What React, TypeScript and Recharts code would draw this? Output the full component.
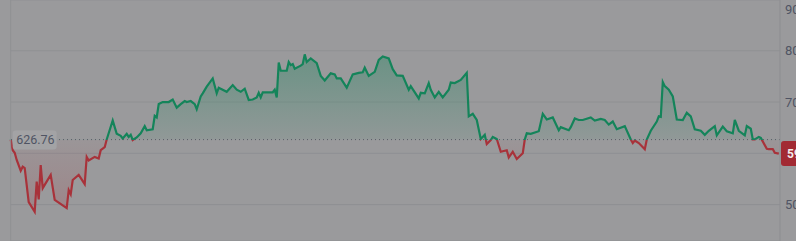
import React from 'react';
import { ComposedChart, Area, XAxis, YAxis, CartesianGrid, ReferenceLine } from 'recharts';

// session index (half-step bars) and close prices
const days = [
    0, 1, 2, 3, 5, 6, 7, 9, 12, 13, 14, 15, 16, 20, 22, 28, 29, 30, 31, 34,
    37, 38, 39, 42, 44, 45, 47, 48, 51, 52, 53, 55, 56, 58, 59, 60, 61, 63, 65, 67,
    68, 71, 72, 73, 74, 76, 79, 81, 83, 85, 87, 88, 90, 92, 93, 95, 96, 98, 101, 103,
    104, 108, 111, 113, 115, 117, 119, 121, 123, 124, 125, 126, 131, 132, 133, 134, 135, 138, 139, 140,
    141, 142, 145, 146, 147, 148, 150, 153, 155, 157, 160, 162, 163, 165, 168, 171, 174, 176, 177, 179,
    182, 184, 186, 189, 191, 193, 196, 199, 200, 204, 205, 207, 209, 210, 212, 214, 216, 219, 220, 222,
    225, 228, 229, 231, 233, 235, 237, 238, 240, 241, 243, 245, 248, 249, 251, 253, 256, 257, 258, 260,
    264, 266, 268, 271, 274, 275, 279, 280, 282, 284, 286, 290, 292, 295, 297, 299, 301, 303, 307, 310,
    311, 312, 314, 317, 318, 320, 323, 324, 325, 326, 327, 329, 331, 333, 336, 338, 340, 342, 345, 347,
    349, 352, 353, 356, 358, 361, 362, 364, 367, 368, 370, 371, 372, 374, 375, 378, 379, 381, 382, 384,
];

const prices = [
    627, 606, 601, 587, 566, 574, 571, 505, 486, 545, 510, 577, 532, 558, 509, 493, 528, 520, 548, 558,
    540, 593, 586, 593, 590, 606, 612, 627, 664, 651, 638, 634, 629, 638, 632, 636, 626, 631, 639, 653,
    645, 647, 673, 670, 696, 700, 700, 705, 689, 696, 702, 700, 702, 696, 686, 711, 717, 730, 746, 717,
    728, 720, 733, 724, 720, 726, 704, 705, 709, 718, 709, 719, 719, 724, 709, 777, 761, 761, 778, 772,
    774, 765, 771, 774, 793, 778, 785, 776, 751, 742, 756, 754, 746, 746, 728, 754, 757, 758, 767, 751,
    759, 782, 789, 785, 764, 752, 751, 724, 731, 707, 718, 717, 737, 724, 709, 720, 709, 724, 738, 737,
    743, 757, 672, 677, 665, 628, 636, 618, 626, 632, 628, 603, 606, 592, 603, 589, 600, 627, 639, 638,
    643, 677, 666, 670, 645, 651, 645, 651, 668, 665, 665, 670, 664, 667, 665, 656, 662, 647, 653, 627,
    620, 625, 620, 608, 627, 644, 662, 672, 671, 739, 731, 724, 711, 666, 665, 679, 672, 647, 644, 636,
    644, 653, 635, 652, 643, 639, 665, 644, 635, 653, 648, 627, 627, 632, 630, 609, 608, 608, 601, 599.4,
];

const baseline = 626.76;
const yTicks = [500, 600, 700, 800, 900];
const yMin = 429;
const yMax = 899;

const data = days.map((d, i) => ({ day: d, price: prices[i] }));
const lastPrice = prices[prices.length - 1];

const W = 796;
const H = 241;
const GREEN = '#14845a';
const RED = '#a8323a';
const TEXT = '#4f5463';
const GRID = '#8f9093';

const off = (yMax - baseline) / (yMax - yMin);

const AxisTick = (props: any) => {
    const { y, payload } = props;
    // the last-price badge sits on top of this tick
    if (Math.abs(payload.value - lastPrice) < 15) return null;
    return (
        <text x={785} y={y} dy={4.5} fill={TEXT} fontSize={13} fontFamily="Roboto, sans-serif">
            {payload.value}
        </text>
    );
};

const BaseLabel = (props: any) => {
    const vb = props.viewBox;
    return (
        <g>
            <rect x={vb.x + 2} y={vb.y - 9} width={44} height={19} rx={3} fill="#a3a3a5" />
            <text x={vb.x + 5.5} y={vb.y + 4.5} fill={TEXT} fontSize={12.5} fontFamily="Roboto, sans-serif">
                {baseline.toFixed(2)}
            </text>
        </g>
    );
};

const PriceBadge = (props: any) => {
    const vb = props.viewBox;
    const x = vb.x + vb.width + 1;
    return (
        <g>
            <rect x={x} y={vb.y - 12.5} width={30} height={25} rx={3} fill="#a22a33" />
            <text x={x + 6} y={vb.y + 4.5} fill="#f2e9ea" fontSize={12} fontWeight={700} fontFamily="Roboto, sans-serif">
                {lastPrice.toFixed(2)}
            </text>
        </g>
    );
};

const App = () => (
    <div style={{ position: 'absolute', left: 0, top: 0, width: W, height: H, background: '#9a9a9c', overflow: 'hidden' }}>
        <ComposedChart width={W} height={H} data={data} margin={{ top: 0, right: 0, bottom: 0, left: 10.7 }}>
            <defs>
                <linearGradient id="lineGrad" gradientUnits="userSpaceOnUse" x1="0" y1="0" x2="0" y2={H}>
                    <stop offset={off} stopColor={GREEN} />
                    <stop offset={off} stopColor={RED} />
                </linearGradient>
                <linearGradient id="fillGrad" gradientUnits="userSpaceOnUse" x1="0" y1="0" x2="0" y2={H}>
                    <stop offset={0} stopColor={GREEN} stopOpacity={0.4} />
                    <stop offset={0.2} stopColor={GREEN} stopOpacity={0.38} />
                    <stop offset={off} stopColor={GREEN} stopOpacity={0.07} />
                    <stop offset={off} stopColor={RED} stopOpacity={0.04} />
                    <stop offset={0.875} stopColor={RED} stopOpacity={0.2} />
                    <stop offset={1} stopColor={RED} stopOpacity={0.22} />
                </linearGradient>
            </defs>
            <CartesianGrid vertical={false} stroke={GRID} />
            <XAxis dataKey="day" type="number" domain={[0, 384.6]} hide />
            <YAxis
                orientation="right"
                width={16}
                domain={[yMin, yMax]}
                ticks={yTicks}
                allowDataOverflow
                axisLine={{ stroke: '#8c8d90' }}
                tickLine={false}
                tick={<AxisTick />}
            />
            <ReferenceLine x={0} stroke={GRID} />
            <Area
                type="linear"
                dataKey="price"
                baseValue={baseline}
                stroke="url(#lineGrad)"
                strokeWidth={2.2}
                fill="url(#fillGrad)"
                fillOpacity={1}
                dot={false}
                activeDot={false}
                isAnimationActive={false}
            />
            <ReferenceLine y={baseline} stroke="#5a5d66" strokeDasharray="1 3" label={<BaseLabel />} />
            <ReferenceLine y={lastPrice} stroke="none" label={<PriceBadge />} />
        </ComposedChart>
    </div>
);

export default App;
